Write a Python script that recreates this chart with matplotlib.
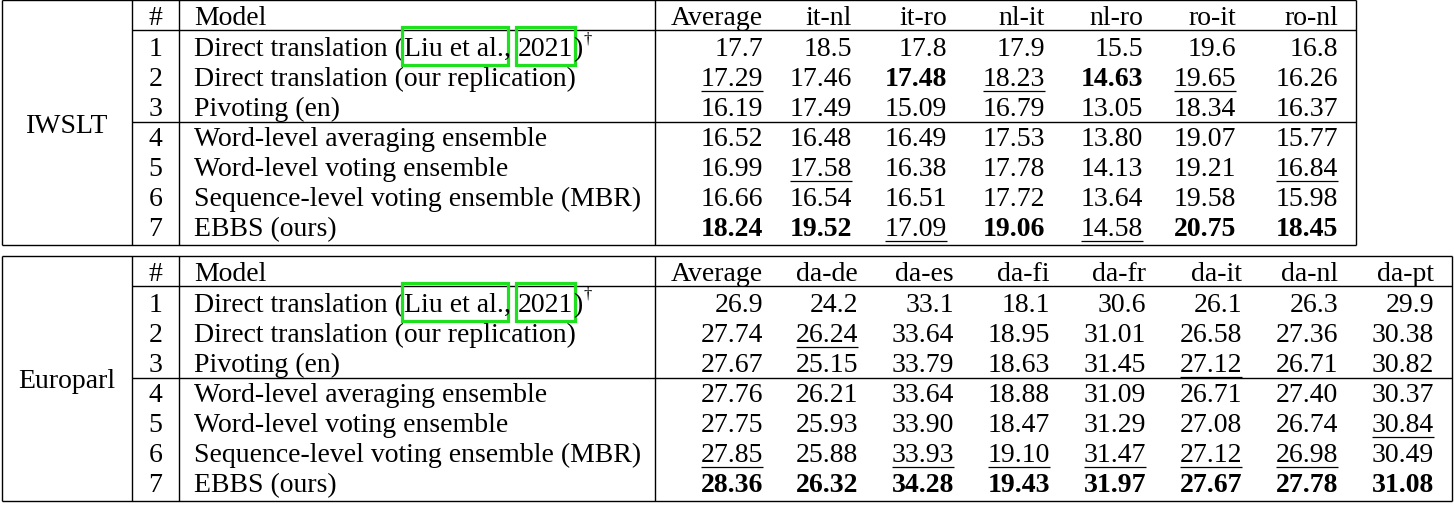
import matplotlib
matplotlib.use("Agg")
import matplotlib.pyplot as plt
from matplotlib.patches import Rectangle

plt.rcParams['font.family'] = ['Liberation Serif', 'DejaVu Serif']

# Daten
models = [
    "Direct translation (Liu et al., 2021)",
    "Direct translation (our replication)",
    "Pivoting (en)",
    "Word-level averaging ensemble",
    "Word-level voting ensemble",
    "Sequence-level voting ensemble (MBR)",
    "EBBS (ours)",
]
cite_parts = ["Direct translation (", "Liu et al.", ",", " ", "2021", ")"]
cite_boxed = [False, True, False, False, True, False]

iwslt_cols = ["Average", "it-nl", "it-ro", "nl-it", "nl-ro", "ro-it", "ro-nl"]
iwslt_vals = [
    ["17.7", "18.5", "17.8", "17.9", "15.5", "19.6", "16.8"],
    ["17.29", "17.46", "17.48", "18.23", "14.63", "19.65", "16.26"],
    ["16.19", "17.49", "15.09", "16.79", "13.05", "18.34", "16.37"],
    ["16.52", "16.48", "16.49", "17.53", "13.80", "19.07", "15.77"],
    ["16.99", "17.58", "16.38", "17.78", "14.13", "19.21", "16.84"],
    ["16.66", "16.54", "16.51", "17.72", "13.64", "19.58", "15.98"],
    ["18.24", "19.52", "17.09", "19.06", "14.58", "20.75", "18.45"],
]
iwslt_bold = {(1, 2), (1, 4), (6, 0), (6, 1), (6, 3), (6, 5), (6, 6)}
iwslt_under = {(1, 0), (1, 3), (1, 5), (4, 1), (4, 6), (6, 2), (6, 4)}

europarl_cols = ["Average", "da-de", "da-es", "da-fi", "da-fr", "da-it", "da-nl", "da-pt"]
europarl_vals = [
    ["26.9", "24.2", "33.1", "18.1", "30.6", "26.1", "26.3", "29.9"],
    ["27.74", "26.24", "33.64", "18.95", "31.01", "26.58", "27.36", "30.38"],
    ["27.67", "25.15", "33.79", "18.63", "31.45", "27.12", "26.71", "30.82"],
    ["27.76", "26.21", "33.64", "18.88", "31.09", "26.71", "27.40", "30.37"],
    ["27.75", "25.93", "33.90", "18.47", "31.29", "27.08", "26.74", "30.84"],
    ["27.85", "25.88", "33.93", "19.10", "31.47", "27.12", "26.98", "30.49"],
    ["28.36", "26.32", "34.28", "19.43", "31.97", "27.67", "27.78", "31.08"],
]
europarl_bold = {(6, c) for c in range(8)}
europarl_under = {(1, 1), (2, 5), (4, 7), (5, 0), (5, 2), (5, 3), (5, 4), (5, 5), (5, 6)}

# Layout (Pixel)
W, H = 1454, 506
FS = 20
x_left, x_hash, x_model, x_avg = 2, 132, 179, 655
model_x = 194
iwslt_right = [763, 852, 947, 1045, 1143, 1236, 1338]
europarl_right = [763, 858, 954, 1050, 1146, 1242, 1338, 1434]

fig = plt.figure(figsize=(W / 100, H / 100), dpi=100)
ax = fig.add_axes([0, 0, 1, 1])
ax.set_xlim(0, W)
ax.set_ylim(H, 0)
ax.axis('off')
renderer = fig.canvas.get_renderer()
inv = ax.transData.inverted()


def extent(t):
    bb = t.get_window_extent(renderer)
    (x0, y0), (x1, y1) = inv.transform([(bb.x0, bb.y0), (bb.x1, bb.y1)])
    return x0, x1


def line(x0, x1, y0, y1, lw=1.0):
    ax.plot([x0, x1], [y0, y1], color='black', lw=lw, solid_capstyle='butt')


def draw_block(name, top, right, cols, vals, bold, under, col_x):
    head_base = top + 24
    rows_y = [top + 46 + 30 * i for i in range(len(vals))]
    hline = top + 30
    sep = rows_y[2] + 16
    bottom = rows_y[-1] + 19

    # Rahmen und Linien
    line(x_left, right, top, top)
    line(x_left, right, bottom, bottom)
    line(x_hash, right, hline, hline)
    line(x_hash, right, sep, sep)
    for x in [x_left, x_hash, x_model, x_avg, right]:
        line(x, x, top, bottom)

    ax.text((x_left + x_hash) / 2, (top + bottom) / 2 + 9, name, fontsize=FS,
            ha='center', va='baseline')
    ax.text((x_hash + x_model) / 2, head_base, "#", fontsize=FS, ha='center', va='baseline')
    ax.text(model_x, head_base, "Model", fontsize=FS, ha='left', va='baseline')
    for c, col in enumerate(cols):
        ax.text(col_x[c], head_base, col, fontsize=FS, ha='right', va='baseline')

    for r, y in enumerate(rows_y):
        base = y + 9
        ax.text((x_hash + x_model) / 2, base, str(r + 1), fontsize=FS, ha='center', va='baseline')
        if r == 0:
            x = model_x
            for part, boxed in zip(cite_parts, cite_boxed):
                t = ax.text(x, base, part, fontsize=FS, ha='left', va='baseline')
                x0, x1 = extent(t)
                if boxed:
                    pad_r = 4 if part.startswith("Liu") else 2
                    ax.add_patch(Rectangle((x0 - 2, y - 19), x1 - x0 + 2 + pad_r, 38,
                                           fill=False, ec='#1fe01f', lw=2.3, zorder=3))
                x = x1
            ax.text(x + 1, y - 4, "\u2020", fontsize=FS * 0.6, ha='left', va='baseline')
        else:
            ax.text(model_x, base, models[r], fontsize=FS, ha='left', va='baseline')
        for c, v in enumerate(vals[r]):
            t = ax.text(col_x[c], base, v, fontsize=FS, ha='right', va='baseline',
                        fontweight='bold' if (r, c) in bold else 'normal')
            if (r, c) in under:
                x0, x1 = extent(t)
                line(x0, x1, y + 15, y + 15, lw=0.9)


draw_block("IWSLT", 1, 1356, iwslt_cols, iwslt_vals, iwslt_bold, iwslt_under, iwslt_right)
draw_block("Europarl", 257, 1452, europarl_cols, europarl_vals, europarl_bold,
           europarl_under, europarl_right)

fig.savefig("out.png", dpi=100)
